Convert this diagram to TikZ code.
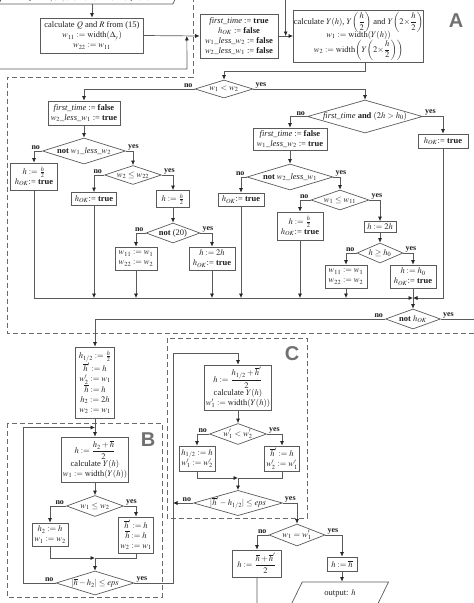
\documentclass[tikz,border=0pt]{standalone}
\usepackage{amsmath}
\usepackage{mathptmx}
\usepackage{fontspec}
\setmainfont{Liberation Serif}
\setsansfont{Liberation Sans}
\usetikzlibrary{shapes.geometric,arrows.meta,calc}
\definecolor{lc}{HTML}{5A5A5A}
\definecolor{tc}{HTML}{1E1E1E}
\definecolor{rc}{HTML}{6A6A6A}
\definecolor{bc}{HTML}{707070}
\newcommand\myfs{\fontsize{8.5}{10}\selectfont}
\newcommand\ul{\textit{\_less\_}}
\newcommand\bnode[6]{\node[box,minimum width=#4pt,minimum height=#5pt] (#1) at (#2,#3) {#6};}
\newcommand\dnode[6]{\pgfmathsetmacro\dasp{#4/#5}\node[dia,minimum width=#4pt,minimum height=#5pt,shape aspect=\dasp] (#1) at (#2,#3) {#6};}
\newcommand\nol[1]{\node[lbl,anchor=south east] at ([xshift=-1pt]#1.west) {no};}
\newcommand\yesl[1]{\node[lbl,anchor=south west] at ([xshift=1pt]#1.east) {yes};}
\tikzset{
  box/.style={draw=lc, line width=0.7pt, inner sep=1.5pt, align=center, text=tc, font=\myfs},
  dia/.style={diamond, draw=lc, line width=0.7pt, inner sep=-1pt, align=center, text=tc, font=\myfs},
  ln/.style={draw=lc, line width=0.7pt},
  arr/.style={ln, -{Latex[length=4.5pt,width=4pt,color=black!85]}},
  lbl/.style={font=\bfseries\fontsize{8}{9}\selectfont, text=tc, inner sep=1pt},
  reg/.style={draw=rc, line width=0.9pt, dash pattern=on 5pt off 3pt},
  big/.style={font=\sffamily\bfseries\fontsize{20}{20}\selectfont, text=bc},
  para/.style={trapezium, trapezium left angle=64, trapezium right angle=116, draw=lc, line width=0.7pt, inner sep=1pt, text=tc, font=\myfs}
}
\begin{document}
\begin{tikzpicture}[x=1pt,y=-1pt]
\useasboundingbox (0,0) rectangle (474,603);
\clip (0,0) rectangle (474,603);

% regions
\draw[reg] (193,-3) -- (193,77) -- (7,77) -- (7,333) -- (480,333);
\draw[reg] (167,338) rectangle (307,518);
\draw[reg] (7,423) rectangle (162,597);
\node[big] (labA) at (456,21) {A};
\node[big] (labB) at (148,440) {B};
\node[big] (labC) at (292,354) {C};

% top
\node[para, minimum width=168pt, minimum height=13pt] (inp) at (89,-2.5) {input: $\Delta_f, \Delta_y, h, M, \alpha, r_{max}, w_0, \mathit{eps}, \Gamma, \Gamma$};
\bnode{calcQ}{92}{35.5}{103}{35}{calculate $Q$ and $R$ from (15)\\ $w_{11} := \mathrm{width}(\Delta_y)$\\ $w_{22} := w_{11}$}
\bnode{ft}{239}{36}{78}{44}{\textit{first\_time} := \textbf{true}\\ $h_{OK}$ := \textbf{false}\\ $w_1$\ul$w_2$ := \textbf{false}\\ $w_2$\ul$w_1$ := \textbf{false}}
\node[box,minimum width=123pt,minimum height=52pt,inner sep=0.5pt,font=\fontsize{8.5}{9}\selectfont] (calcY) at (358.5,36) {calculate $Y(h)$, $Y\!\left(\dfrac{h}{2}\right)$ and $Y\!\left(2{\times}\dfrac{h}{2}\right)$\\[-2pt] $w_1 := \mathrm{width}(Y(h))$\\[-1pt] $w_2 := \mathrm{width}\!\left(Y\!\left(2{\times}\dfrac{h}{2}\right)\right)$};

\dnode{d1}{224}{89}{58}{18}{$w_1 < w_2$}
\bnode{bft2}{84}{113}{72}{24}{\textit{first\_time} := \textbf{false}\\ $w_2$\ul$w_1$ := \textbf{true}}
\dnode{d2}{84}{151}{83}{26}{\textbf{not} $w_1$\ul$w_2$}
\bnode{bh1}{34}{176.5}{47}{27}{$h := \frac{h}{2}$\\ $h_{OK}$:= \textbf{true}}
\dnode{d3}{133}{175}{57}{19}{$w_2 \le w_{22}$}
\bnode{bhok1}{94}{199}{45}{13}{$h_{OK}$:= \textbf{true}}
\bnode{bh2}{173}{199}{33}{17}{$h := \frac{h}{2}$}
\dnode{d4}{173}{233}{54}{20}{\textbf{not} (20)}
\bnode{bw1}{136}{258.5}{42}{23}{$w_{11} := w_1$\\ $w_{22} := w_2$}
\bnode{bh3}{212}{258.5}{46}{23}{$h := 2h$\\ $h_{OK}$:= \textbf{true}}

\dnode{d5}{365}{116.5}{115}{33}{\textit{first\_time} \textbf{and} $(2h > h_0)$}
\bnode{bft3}{290}{139}{74}{22}{\textit{first\_time} := \textbf{false}\\ $w_1$\ul$w_2$ := \textbf{true}}
\bnode{bhok2}{443}{141}{50}{14}{$h_{OK}$:= \textbf{true}}
\dnode{d6}{290}{177}{86}{26}{\textbf{not} $w_2$\ul$w_1$}
\bnode{bhok3}{241}{199.5}{46}{13}{$h_{OK}$:= \textbf{true}}
\dnode{d7}{340}{200}{58}{20}{$w_1 \le w_{11}$}
\bnode{bh4}{300}{226}{46}{28}{$h := \frac{h}{2}$\\ $h_{OK}$:= \textbf{true}}
\bnode{bh5}{380}{227}{32}{11}{$h := 2h$}
\dnode{d8}{380}{253}{46}{20}{$h \ge h_0$}
\bnode{bw2}{346}{276.5}{42}{23}{$w_{11} := w_1$\\ $w_{22} := w_2$}
\bnode{bh6}{413}{276.5}{46}{23}{$h := h_0$\\ $h_{OK}$:= \textbf{true}}
\dnode{d9}{413}{319}{55}{20}{\textbf{not} $h_{OK}$}

% lower
\bnode{binit}{95}{382.5}{39}{71}{$h_{1/2} := \frac{h}{2}$\\ $\overline{h}' := h$\\ $w_2' := w_1$\\ $\overline{h} := h$\\ $h_2 := 2h$\\ $w_2 := w_1$}
\bnode{bB1}{95}{459.5}{66}{45}{$h := \dfrac{h_2+\overline{h}}{2}$\\ calculate $Y(h)$\\ $w_1 := \mathrm{width}(Y(h))$}
\dnode{dB1}{95}{506}{57}{21}{$w_1 \le w_2$}
\bnode{bB2}{50}{534.5}{36}{23}{$h_2 := h$\\ $w_1 := w_2$}
\bnode{bB3}{136}{535}{29}{36}{$\overline{h}' := h$\\ $\overline{h} := h$\\ $w_2 := w_1$}
\dnode{dB2}{95}{583}{78}{24}{$|\overline{h} - h_2| \le \mathit{eps}$}
\bnode{bC1}{238}{387.5}{66}{45}{$h := \dfrac{h_{1/2}+\overline{h}'}{2}$\\ calculate $Y(h)$\\ $w_1' := \mathrm{width}(Y(h))$}
\dnode{dC1}{238}{434}{57}{21}{$w_1' < w_2'$}
\bnode{bC2}{197}{458.5}{36}{25}{$h_{1/2} := h$\\ $w_1' := w_2'$}
\bnode{bC3}{282}{458.5}{35}{25}{$\overline{h}' := h$\\ $w_2' := w_1'$}
\dnode{dC2}{238}{503}{88}{25}{$|\overline{h}' - h_{1/2}| \le \mathit{eps}$}
\dnode{dD}{297}{535}{56}{22}{$w_1 = w_1'$}
\bnode{bD1}{257}{563.5}{49}{27}{$h := \dfrac{\overline{h} + \overline{h}'}{2}$}
\bnode{bD2}{342}{564}{30}{14}{$h := \overline{h}$}
\node[para, minimum width=64pt, minimum height=22pt] (out) at (340,593) {output: $h$};

% labels
\nol{d1}\yesl{d1}\nol{d2}\yesl{d2}\nol{d3}\yesl{d3}\nol{d4}\yesl{d4}
\nol{d5}\yesl{d5}\nol{d6}\yesl{d6}\nol{d7}\yesl{d7}\nol{d8}\yesl{d8}
\nol{d9}\yesl{d9}\nol{dB1}\yesl{dB1}\nol{dB2}\yesl{dB2}
\nol{dC1}\yesl{dC1}\nol{dC2}\yesl{dC2}\nol{dD}\yesl{dD}

% connectors top
\draw[arr] (calcQ.north |- inp.south) -- (calcQ.north);
\draw[arr] (calcQ.east) -- (ft.west);
\draw[arr] (ft.east) -- (calcY.west);
\path (calcQ.east) -- (ft.west) coordinate[pos=0.77] (lp);
\coordinate (mid) at ($(ft.east)!0.5!(calcY.west)$);
\draw[arr] (d5.north |- calcY.south) -- ++(0,9) -| (d1.north);
\draw[arr] (d1.west) -| (bft2.north);
\draw[arr] (d1.east) -| (d5.north);
\draw[arr] (bft2.south) -- (d2.north);
\draw[arr] (d2.west) -| (bh1.north);
\draw[arr] (d2.east) -| (d3.north);
\draw[arr] (d3.west) -| (bhok1.north);
\draw[arr] (d3.east) -| (bh2.north);
\draw[arr] (bh2.south) -- (d4.north);
\draw[arr] (d4.west) -| (bw1.north);
\draw[arr] (d4.east) -| (bh3.north);
\draw[arr] (d5.west) -| (bft3.north);
\draw[arr] (d5.east) -| (bhok2.north);
\draw[arr] (bft3.south) -- (d6.north);
\draw[arr] (d6.west) -| (bhok3.north);
\draw[arr] (d6.east) -| (d7.north);
\draw[arr] (d7.west) -| (bh4.north);
\draw[arr] (d7.east) -| (bh5.north);
\draw[arr] (bh5.south) -- (d8.north);
\draw[arr] (d8.west) -| (bw2.north);
\draw[arr] (d8.east) -| (bh6.north);
% merge A
\coordinate (J) at (413,298);
\draw[arr] (bh1.south) |- (J);
\draw[arr] (bhok2.south) |- (J);
\foreach \n in {bhok1,bw1,bh3,bhok3,bh4,bw2} \draw[arr] (\n.south) -- (\n.south |- J);
\draw[ln] (bh6.south) -- (J);
\draw[arr] (J) -- (d9.north);
\draw[arr] (d9.west) -| (binit.north);
\draw[arr] (d9.east) -| (486,-10) -| (mid);

% B
\path (binit.south) -- (bB1.north) coordinate[midway] (Bin);
\draw[arr] (binit.south) -- (bB1.north);
\draw[arr] (bB1.south) -- (dB1.north);
\draw[arr] (dB1.west) -| (bB2.north);
\draw[arr] (dB1.east) -| (bB3.north);
\coordinate (JB) at (95,558);
\draw[arr] (bB2.south) |- (JB);
\draw[ln] (bB3.south) |- (JB);
\draw[arr] (JB) -- (dB2.north);
\draw[arr] (dB2.west) -- (23,583) |- (Bin);
\coordinate (cv) at (173,353);
\draw[arr] (dB2.east) -| (cv) -| (bC1.north);

% C
\draw[arr] (bC1.south) -- (dC1.north);
\draw[arr] (dC1.west) -| (bC2.north);
\draw[arr] (dC1.east) -| (bC3.north);
\coordinate (JC) at (238,478);
\draw[arr] (bC2.south) |- (JC);
\draw[ln] (bC3.south) |- (JC);
\draw[arr] (JC) -- (dC2.north);
\draw[arr] (dC2.west) -- (dC2.west -| cv);
\draw[arr] (dC2.east) -| (dD.north);
\draw[arr] (dD.west) -| (bD1.north);
\draw[arr] (dD.east) -| (bD2.north);
\draw[arr] (bD2.south) -- (bD2.south |- out.north);
\draw[arr] (bD1.south) -- ++(0,45) -| (-5,69) -- (187,69) -- (lp);
\end{tikzpicture}
\end{document}
